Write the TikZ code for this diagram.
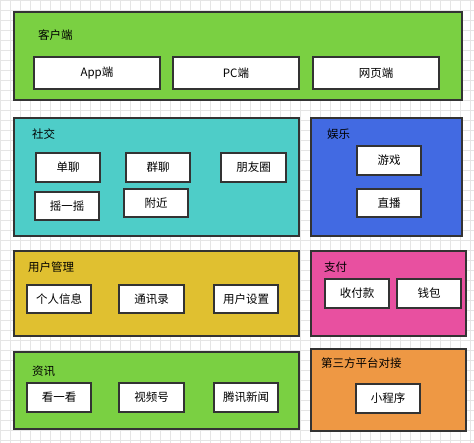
\documentclass[tikz,border=0pt]{standalone}
\usepackage{fontspec}
\setmainfont{Noto Sans CJK SC}
\begin{document}
\begin{tikzpicture}[x=1pt,y=-1pt,
  grp/.style={draw=black!80,line width=1.3pt},
  item/.style={draw=black!80,line width=1.2pt,fill=white},
  txt/.style={font=\fontsize{11.5}{13}\selectfont},
  lbl/.style={anchor=west,font=\fontsize{11.5}{13}\selectfont,inner sep=0pt}]
\useasboundingbox (0,0) rectangle (474,443);
\fill[white] (0,0) rectangle (474,443);
\draw[black!10,line width=0.5pt] (0,0) grid[step=10pt] (474,443);
% groups
\draw[grp,fill={rgb,255:red,122;green,208;blue,66}] (14,12) rectangle (462,100);
\node[lbl] (lk) at (38,35) {客户端};
\draw[grp,fill={rgb,255:red,78;green,205;blue,200}] (14,118) rectangle (299,236);
\node[lbl] (ls) at (32,134) {社交};
\draw[grp,fill={rgb,255:red,66;green,106;blue,226}] (311,118) rectangle (462,236);
\node[lbl] (ly) at (327,134) {娱乐};
\draw[grp,fill={rgb,255:red,224;green,192;blue,48}] (14,251) rectangle (299,336);
\node[lbl] (lu) at (28,267) {用户管理};
\draw[grp,fill={rgb,255:red,232;green,80;blue,160}] (311,251) rectangle (466,336);
\node[lbl] (lp) at (324,267) {支付};
\draw[grp,fill={rgb,255:red,122;green,208;blue,66}] (14,352) rectangle (299,429);
\node[lbl] (li) at (32,371) {资讯};
\draw[grp,fill={rgb,255:red,238;green,152;blue,68}] (311,349) rectangle (466,431);
\node[lbl] (lt) at (321,363) {第三方平台对接};
% items
\newcommand{\itembox}[6]{\draw[item] (#2,#3) rectangle (#4,#5) node[midway,txt] (#1) {#6};}
\itembox{app}{34}{57}{160}{89}{App端}
\itembox{pc}{173}{57}{299}{89}{PC端}
\itembox{web}{313}{57}{439}{89}{网页端}
\itembox{dl}{36}{153}{100}{182}{单聊}
\itembox{ql}{126}{153}{190}{182}{群聊}
\itembox{pyq}{221}{153}{286}{182}{朋友圈}
\itembox{yyy}{35}{192}{99}{220}{摇一摇}
\itembox{fj}{124}{189}{188}{217}{附近}
\itembox{yx}{357}{146}{421}{175}{游戏}
\itembox{zb}{357}{189}{421}{217}{直播}
\itembox{grxx}{27}{285}{91}{313}{个人信息}
\itembox{txl}{119}{285}{184}{313}{通讯录}
\itembox{yhsz}{214}{285}{278}{313}{用户设置}
\itembox{sfk}{325}{279}{389}{308}{收付款}
\itembox{qb}{397}{279}{461}{308}{钱包}
\itembox{kyk}{27}{383}{91}{412}{看一看}
\itembox{sph}{119}{383}{184}{412}{视频号}
\itembox{txxw}{214}{383}{278}{412}{腾讯新闻}
\itembox{xcx}{356}{384}{420}{413}{小程序}
\end{tikzpicture}
\end{document}
